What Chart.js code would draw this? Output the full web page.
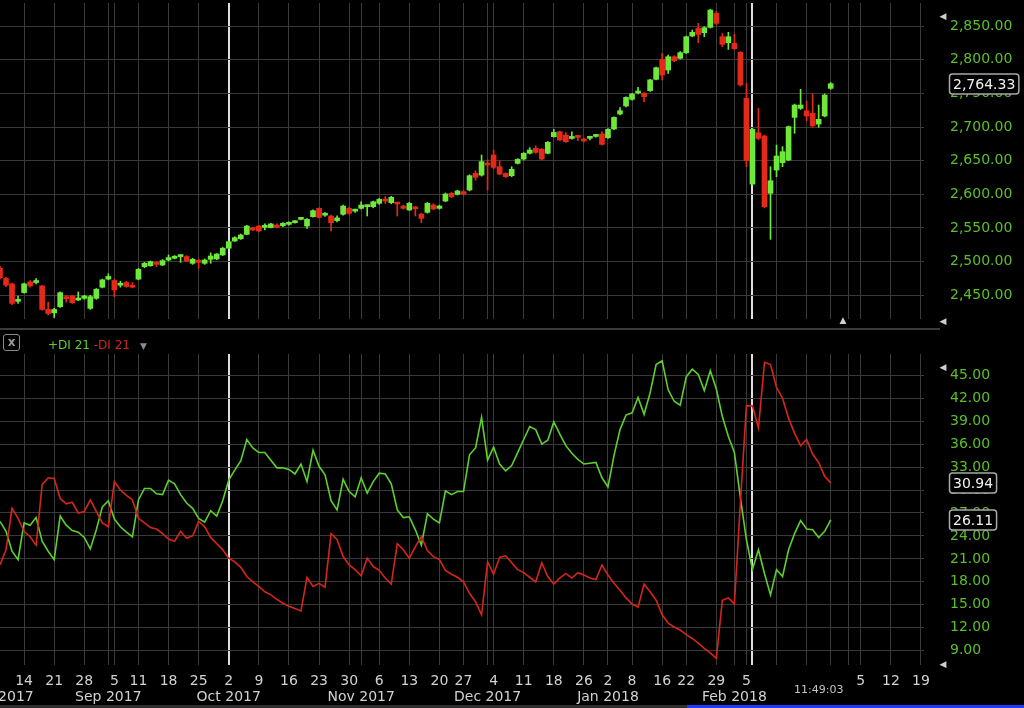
<!DOCTYPE html>
<html>
<head>
<meta charset="utf-8">
<script src="https://cdn.jsdelivr.net/npm/chart.js@4.4.0/dist/chart.umd.min.js"></script>
<style>
  body { margin: 0; background: #000; width: 1024px; height: 708px; overflow: hidden; position: relative;
         font-family: "DejaVu Sans", Verdana, sans-serif; }
  canvas { position: absolute; left: 0; }
  #priceChart { top: 0; }
  #diChart { top: 330px; }
  .abs { position: absolute; white-space: nowrap; }
  .tri { color: #cfcfcf; font-size: 9px; transform: translate(-50%, -50%); }
</style>
</head>
<body>
<canvas id="priceChart" width="1024" height="328"></canvas>
<canvas id="diChart" width="1024" height="378"></canvas>

<div class="abs" style="left:0;top:328px;width:940px;height:2px;background:#3c3c3c"></div>
<div class="abs" style="left:3px;top:334px;width:15px;height:15px;border:1.5px solid #8a8a8a;border-radius:3px;color:#9a9a9a;font-size:12px;font-weight:bold;line-height:14px;text-align:center">x</div>
<div class="abs" style="left:48px;top:338px;font-size:12px;line-height:14px">
  <span style="color:#5ed02e">+DI 21</span> <span style="color:#d62619">-DI 21</span><span style="color:#8c8c8c;font-size:9px;margin-left:10px">&#9660;</span>
</div>
<div class="abs" style="left:794px;top:683px;font-size:11px;color:#c4c4c4">11:49:03</div>
<div class="abs tri" style="left:943px;top:16px">&#9664;</div>
<div class="abs tri" style="left:943px;top:321px">&#9664;</div>
<div class="abs tri" style="left:843px;top:320px">&#9650;</div>
<div class="abs tri" style="left:943px;top:367px">&#9664;</div>
<div class="abs tri" style="left:943px;top:664px">&#9664;</div>
<div class="abs" style="left:0;top:705px;width:687px;height:3px;background:#2e2e2e"></div>
<div class="abs" style="left:687px;top:705px;width:337px;height:3px;background:#1d3cf5"></div>

<script>
// Trading-day index of first candle (Aug 14 2017 = day 0, weekends/holidays skipped)
const firstDay = -4;

const openP = [
  2490, 2475, 2467, 2441, 2454, 2470, 2469, 2464, 2429, 2424,
  2433, 2447, 2449, 2443, 2445.5, 2430.6, 2445.5, 2462, 2474, 2472,
  2465, 2469, 2463.5, 2474, 2492.5, 2494, 2497.5, 2495, 2502.4, 2505,
  2507.5, 2507.5, 2497.5, 2500.5, 2497.5, 2503.4, 2504, 2510, 2520, 2530.6,
  2534, 2540.5, 2549.5, 2552.9, 2551, 2550.5, 2554.4, 2553.4, 2555.4, 2557.9,
  2562.8, 2552.9, 2566.8, 2579.2, 2569, 2567.8, 2561, 2570.3, 2579.2, 2575,
  2579.2, 2581.7, 2581.7, 2586.6, 2591.6, 2587.6, 2587, 2582.6, 2576.7, 2580,
  2570.7, 2573.2, 2584.1, 2579.2, 2590, 2601.5, 2600, 2604, 2606.4, 2631.2,
  2628.5, 2645, 2658.4, 2641, 2631, 2627.7, 2646, 2652.4, 2661, 2668.3,
  2666.8, 2661, 2685.6, 2693, 2688, 2683, 2686, 2682.2, 2683.2, 2686,
  2689.6, 2684.1, 2697, 2719.3, 2731.2, 2741, 2750.5, 2750, 2754, 2770.8,
  2800.5, 2784.6, 2804.4, 2802, 2810.4, 2835.1, 2846.5, 2840.1, 2848, 2868.8,
  2834.1, 2825.2, 2824.2, 2810.9, 2742.5, 2615.3, 2691.6, 2686.6, 2601.5, 2636.1,
  2647, 2651, 2714.3, 2727.7, 2724.2, 2720.3, 2704.4, 2716.3, 2757.4
];
const highP = [
  2493, 2477, 2468, 2449, 2468, 2472, 2475, 2465, 2440, 2431,
  2455, 2450, 2450, 2455, 2450, 2450, 2460, 2474, 2482, 2474,
  2471, 2471, 2469, 2490, 2499, 2501, 2500, 2503, 2510, 2509,
  2510, 2509, 2505, 2503.4, 2504, 2513, 2512, 2521, 2531, 2537,
  2541, 2554, 2551, 2554, 2556, 2557, 2556, 2558, 2559, 2561,
  2565, 2564, 2577, 2580, 2573, 2569, 2568, 2584, 2581, 2578,
  2589, 2584, 2590, 2594, 2596.5, 2597, 2587.6, 2584, 2588, 2581.7,
  2572, 2588, 2586, 2584, 2602, 2603, 2606, 2605.5, 2629, 2635,
  2658.4, 2651, 2665.8, 2649.5, 2632, 2641, 2653, 2662, 2669.3, 2672,
  2668, 2678.5, 2696.5, 2694, 2691.6, 2693, 2686.5, 2683, 2686.6, 2689,
  2693, 2697.5, 2715, 2729, 2745, 2750, 2758.9, 2751, 2771, 2789,
  2809.4, 2807, 2806, 2812, 2835, 2844, 2854, 2849, 2875, 2871.3,
  2839, 2840.6, 2837.6, 2812, 2764.8, 2698, 2727.7, 2688, 2641, 2673.2,
  2670.8, 2701.5, 2734, 2755.9, 2738.6, 2749, 2732.6, 2749, 2766
];
const lowP = [
  2474, 2463, 2436, 2438, 2453, 2462, 2467, 2428, 2421, 2417,
  2432, 2440, 2438, 2442, 2444, 2429, 2444, 2461, 2473, 2448,
  2462, 2462, 2461, 2473, 2491, 2493, 2492.5, 2494, 2501, 2504,
  2499, 2500, 2496, 2490, 2496, 2497.5, 2503, 2509, 2519, 2530,
  2533, 2540, 2546, 2544, 2547, 2550, 2550, 2552, 2554, 2557,
  2562, 2549.5, 2566, 2565, 2567, 2545.5, 2559, 2569, 2570, 2573,
  2578, 2567.8, 2580, 2585, 2586.6, 2586, 2567.8, 2578, 2576, 2567.8,
  2557.9, 2572, 2577, 2578, 2589, 2595, 2599, 2599, 2605, 2621,
  2627, 2606.4, 2638, 2629, 2625, 2626, 2645, 2651, 2660, 2661,
  2651, 2660, 2685, 2680, 2677, 2682, 2679.7, 2678, 2680.7, 2685,
  2673, 2683, 2696, 2718, 2730, 2740, 2749, 2737.6, 2753, 2770,
  2769.8, 2779.7, 2797, 2801, 2809, 2834, 2825.2, 2834, 2847, 2852,
  2819.3, 2815.3, 2815, 2761, 2641, 2614, 2681, 2580, 2533.1, 2626.2,
  2641, 2650, 2690.6, 2726, 2709.4, 2700, 2699.5, 2715, 2756
];
const closeP = [
  2476, 2465, 2438, 2443, 2467, 2464, 2471, 2429, 2423, 2429,
  2454, 2445, 2439, 2445.5, 2449, 2448, 2459, 2473, 2478, 2458,
  2467, 2463, 2462, 2488.6, 2497.5, 2500, 2496, 2501.5, 2506, 2508,
  2509, 2501, 2503.4, 2499, 2502.4, 2508.4, 2511.3, 2520, 2529.7, 2535.6,
  2539.6, 2552.9, 2547, 2545.5, 2552.5, 2556, 2551, 2556.9, 2558.4, 2560.4,
  2564.3, 2562.8, 2575.7, 2565.8, 2570.5, 2557.9, 2565, 2582.6, 2571.7, 2576.5,
  2584.1, 2582.6, 2589, 2592.5, 2590, 2595.5, 2585.6, 2579.2, 2586.6, 2578.5,
  2564.3, 2586.6, 2578.2, 2582.6, 2600.5, 2596.5, 2605, 2600.5, 2627.7, 2625.2,
  2648.5, 2643.5, 2640, 2630, 2626.2, 2637.1, 2652, 2661, 2665.8, 2662.3,
  2652.4, 2677.2, 2692, 2680.7, 2678.2, 2684.2, 2684.6, 2679.2, 2684.7, 2688.1,
  2674.2, 2696.5, 2714.3, 2724.2, 2744, 2749, 2752.5, 2745, 2770, 2788.1,
  2777.2, 2804.4, 2798.5, 2810.4, 2834.1, 2840.6, 2837.6, 2847.5, 2873.7, 2853.9,
  2822.8, 2834.1, 2816.3, 2762.4, 2650, 2696.5, 2683.1, 2581.7, 2620.2, 2656.9,
  2663.3, 2700.5, 2732.6, 2732.6, 2716.3, 2701.5, 2711.4, 2747.5, 2764.33
];

const plusDI = [
  25.9, 24.6, 22.0, 20.9, 25.7, 25.4, 26.4, 23.3, 22.0, 20.9,
  26.6, 25.4, 24.7, 24.5, 23.8, 22.3, 24.8, 27.8, 28.6, 26.2,
  25.2, 24.5, 23.9, 28.7, 30.2, 30.2, 29.5, 29.4, 31.3, 30.8,
  29.4, 28.3, 27.6, 26.3, 25.8, 27.3, 26.6, 28.6, 31.3, 32.6,
  33.8, 36.6, 35.5, 34.9, 34.9, 33.9, 32.9, 32.9, 32.7, 32.1,
  33.4, 31.1, 35.2, 33.1, 32.0, 28.6, 27.4, 31.4, 29.8, 29.1,
  31.6, 29.6, 31.1, 32.2, 32.1, 30.8, 27.4, 26.4, 26.5, 24.8,
  22.8, 26.9, 26.2, 25.7, 29.9, 29.4, 29.8, 29.8, 34.6, 35.5,
  39.5, 33.9, 35.6, 33.4, 32.5, 33.2, 34.9, 36.6, 38.3, 37.9,
  36.0, 36.5, 38.9, 37.3, 35.8, 34.8, 34.0, 33.4, 33.5, 33.6,
  31.6, 30.4, 34.5, 37.9, 39.8, 40.1, 42.1, 39.9, 42.7, 46.4,
  46.9, 43.1, 41.6, 41.1, 44.8, 45.8, 45.1, 43.0, 45.6, 43.2,
  39.6, 37.0, 34.9, 29.0, 23.5, 19.6, 22.2, 19.1, 16.3, 19.6,
  18.7, 22.2, 24.3, 26.0, 24.9, 24.8, 23.8, 24.6, 26.11
];
const minusDI = [
  20.2, 22.2, 27.6, 26.3, 24.6, 23.9, 22.8, 30.7, 31.6, 31.5,
  28.9, 28.2, 28.4, 27.0, 27.2, 28.7, 27.2, 25.7, 25.2, 31.1,
  30.0, 29.3, 28.7, 26.3, 25.7, 25.1, 24.9, 24.3, 23.6, 23.3,
  24.6, 23.7, 24.0, 25.9, 25.2, 23.8, 23.0, 22.2, 21.1, 20.6,
  19.9, 18.7, 18.0, 17.4, 16.7, 16.3, 15.7, 15.2, 14.8, 14.5,
  14.2, 18.6, 17.4, 17.8, 17.3, 24.3, 23.5, 21.3, 20.2, 19.6,
  18.8, 21.1, 20.0, 19.5, 18.5, 17.7, 23.0, 22.2, 21.1, 22.6,
  23.9, 22.1, 21.3, 20.9, 19.5, 19.0, 18.6, 18.0, 16.5, 15.4,
  13.7, 20.6, 19.0, 21.2, 21.4, 20.5, 19.6, 19.2, 18.6, 18.0,
  20.5, 18.7, 17.7, 18.5, 19.1, 18.5, 19.2, 18.9, 18.5, 18.3,
  20.2, 18.9, 17.8, 16.9, 15.9, 15.1, 14.7, 17.7, 16.7, 15.6,
  13.7, 12.6, 12.1, 11.7, 11.1, 10.6, 10.0, 9.3, 8.7, 8.0,
  15.6, 15.9, 15.1, 28.3, 41.0, 41.0, 38.1, 46.7, 46.4, 43.4,
  42.0, 39.4, 37.4, 35.8, 36.6, 34.7, 33.6, 31.8, 30.94
];

// x-axis ticks: trading-day index, day number row, month row
const tickIdx = [-4, 0, 5, 10, 14, 15, 19, 24, 29, 34,
  39, 44, 49, 54, 56, 59, 64, 69, 73, 77,
  78, 83, 88, 93, 97, 101, 106, 110, 115, 118,
  120, 121, 125, 130, 134, 137, 139, 144, 149];
const tickDay = ["", "14", "21", "28", "", "5", "11", "18", "25", "2",
  "9", "16", "23", "30", "", "6", "13", "20", "27", "",
  "4", "11", "18", "26", "2", "8", "16", "22", "29", "",
  "5", "", "", "", "", "", "5", "12", "19"];
const tickMonth = ["Aug 2017", "", "", "", "Sep 2017", "", "", "", "", "Oct 2017",
  "", "", "", "", "Nov 2017", "", "", "", "", "Dec 2017",
  "", "", "", "", "Jan 2018", "", "", "", "", "Feb 2018",
  "", "", "", "", "", "", "", "", ""];
const markerIdx = [34, 121];   // white vertical lines

const priceTicks = [2450, 2500, 2550, 2600, 2650, 2700, 2750, 2800, 2850];
const diTicks = [9, 12, 15, 18, 21, 24, 27, 30, 33, 36, 39, 42, 45];

const GREEN = '#6fe83c', RED = '#e4291b';
const DI_GREEN = '#5ed02e', DI_RED = '#d62619';
const LABEL_GREEN = '#5cbf2a';
const GRID = '#3a3a3a';

Chart.defaults.font.family = '"DejaVu Sans", Verdana, sans-serif';

const days = openP.map((_, i) => firstDay + i);
const candleColor = days.map((_, i) => closeP[i] >= openP[i] ? GREEN : RED);

// draws the boxed "last value" labels over the right axis
const valueBoxes = {
  id: 'valueBoxes',
  afterDraw(chart, args, opts) {
    const ctx = chart.ctx;
    const y = chart.scales.y;
    ctx.save();
    ctx.font = '14px "DejaVu Sans"';
    ctx.textBaseline = 'middle';
    for (const it of opts.items) {
      const py = Math.round(y.getPixelForValue(it.value));
      const w = ctx.measureText(it.text).width + 7;
      const x0 = chart.chartArea.right + 25.5;
      ctx.beginPath();
      ctx.roundRect(x0, py - 10, w, 20, 3);
      ctx.fillStyle = '#000';
      ctx.fill();
      ctx.lineWidth = 1.5;
      ctx.strokeStyle = '#a8a8a8';
      ctx.stroke();
      ctx.fillStyle = '#f2f2f2';
      ctx.fillText(it.text, x0 + 3.5, py + 1);
    }
    ctx.restore();
  }
};

function xAxis(showLabels, height) {
  return {
    type: 'linear',
    min: -4,
    max: 149.5,
    offset: false,
    border: { display: false },
    grid: {
      offset: false,
      drawTicks: false,
      color: c => markerIdx.includes(c.tick.value) ? '#dedede' : (c.tick.value < 0 ? 'rgba(0,0,0,0)' : GRID),
      lineWidth: c => markerIdx.includes(c.tick.value) ? 2 : 1,
    },
    afterBuildTicks: s => { s.ticks = tickIdx.map(v => ({ value: v })); },
    afterFit: s => { s.height = height; s.paddingLeft = 0; s.paddingRight = 0; },
    ticks: {
      display: showLabels,
      autoSkip: false,
      maxRotation: 0,
      padding: 8,
      color: '#d2d2d2',
      font: { size: 14, lineHeight: '16px' },
      callback: (v, i) => [tickDay[i], tickMonth[i]],
    },
  };
}

function yAxis(min, max, ticks, fmt) {
  return {
    position: 'right',
    min: min,
    max: max,
    border: { display: false },
    grid: { color: GRID, drawTicks: false },
    afterBuildTicks: s => { s.ticks = ticks.map(v => ({ value: v })); },
    afterFit: s => { s.width = 100; s.paddingTop = 0; s.paddingBottom = 0; },
    ticks: {
      padding: 26,
      color: LABEL_GREEN,
      font: { size: 14 },
      callback: fmt,
    },
  };
}

new Chart('priceChart', {
  type: 'bar',
  data: {
    datasets: [
      {
        label: 'body',
        data: days.map((d, i) => ({ x: d, y: [openP[i], closeP[i]] })),
        backgroundColor: candleColor,
        barThickness: 5,
        minBarLength: 2,
        grouped: false,
      },
      {
        label: 'wick',
        data: days.map((d, i) => ({ x: d, y: [lowP[i], highP[i]] })),
        backgroundColor: candleColor,
        barThickness: 1,
        grouped: false,
      },
    ],
  },
  options: {
    responsive: false,
    devicePixelRatio: 1,
    animation: false,
    events: [],
    layout: { padding: { top: 3, left: 0, right: 0, bottom: 0 } },
    plugins: {
      legend: { display: false },
      tooltip: { enabled: false },
      valueBoxes: { items: [{ value: closeP[closeP.length - 1], text: '2,764.33' }] },
    },
    scales: {
      x: xAxis(false, 9),
      y: yAxis(2414.8, 2884.2, priceTicks,
        v => v.toLocaleString('en-US', { minimumFractionDigits: 2, maximumFractionDigits: 2 })),
    },
  },
  plugins: [valueBoxes],
});

new Chart('diChart', {
  type: 'line',
  data: {
    datasets: [
      {
        label: '-DI 21',
        data: days.map((d, i) => ({ x: d, y: minusDI[i] })),
        borderColor: DI_RED,
        borderWidth: 1.6,
        pointRadius: 0,
        tension: 0,
      },
      {
        label: '+DI 21',
        data: days.map((d, i) => ({ x: d, y: plusDI[i] })),
        borderColor: DI_GREEN,
        borderWidth: 1.6,
        pointRadius: 0,
        tension: 0,
      },
    ],
  },
  options: {
    responsive: false,
    devicePixelRatio: 1,
    animation: false,
    events: [],
    layout: { padding: { top: 24, left: 0, right: 0, bottom: 0 } },
    plugins: {
      legend: { display: false },
      tooltip: { enabled: false },
      valueBoxes: {
        items: [
          { value: minusDI[minusDI.length - 1], text: '30.94' },
          { value: plusDI[plusDI.length - 1], text: '26.11' },
        ],
      },
    },
    scales: {
      x: xAxis(true, 43),
      y: yAxis(7.13, 47.78, diTicks, v => v.toFixed(2)),
    },
  },
  plugins: [valueBoxes],
});
</script>
</body>
</html>
